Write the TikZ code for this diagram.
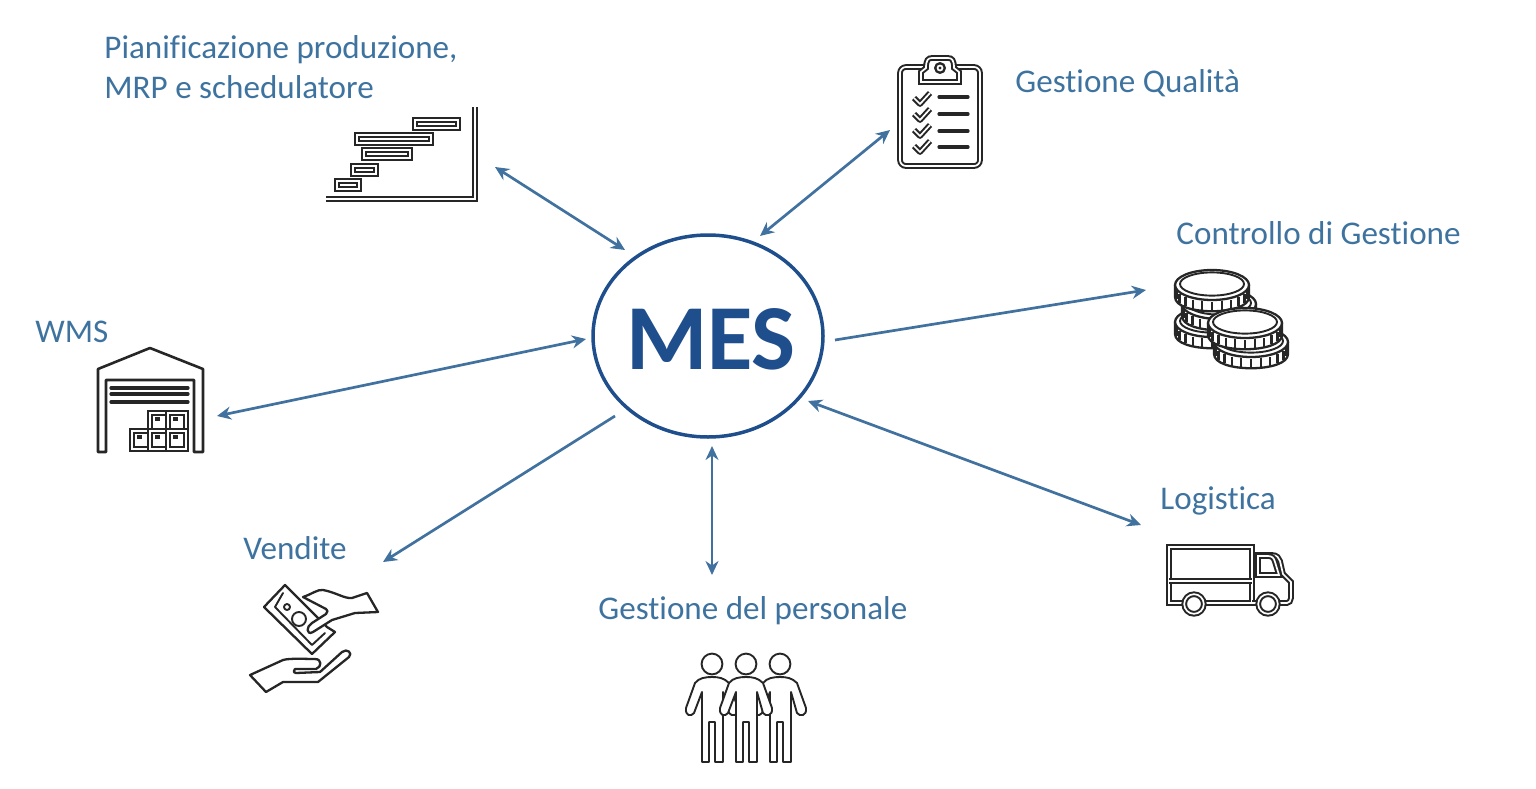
\documentclass[tikz,border=0pt]{standalone}
\usepackage{fontspec}
\setmainfont{Carlito}[Ligatures=CommonOff]
\usetikzlibrary{arrows.meta,shapes.geometric}
\definecolor{lab}{HTML}{3E739F}
\definecolor{arr}{HTML}{41729F}
\definecolor{mes}{HTML}{1F4E8C}
\tikzset{
  lbl/.style={text=lab,font=\fontsize{16.55}{20}\selectfont,inner sep=0pt,anchor=base west,align=left},
  link/.style={draw=arr,line width=1.35pt},
  two/.style={{Stealth[length=7pt,width=6.5pt]}-{Stealth[length=7pt,width=6.5pt]}},
  one/.style={-{Stealth[length=7pt,width=6.5pt]}},
  ink/.style={draw=black!85,line width=1.15pt,line join=round,line cap=round},
  dbl/.style={draw=black!85,double=white,double distance=.85pt,line width=1pt,line join=miter},
  thin ink/.style={draw=black!85,line width=.95pt,line join=round,line cap=round}
}
\newcommand{\mycoin}[2]{%
  \path[ink,fill=white] ({#1-37},#2) -- ({#1-37},{#2+12}) .. controls ({#1-37},{#2+31}) and ({#1+37},{#2+31}) .. ({#1+37},{#2+12}) -- ({#1+37},#2) -- cycle;
  \path[ink,fill=white] (#1,#2) ellipse [x radius=18.5pt,y radius=7.5pt];
  \path[thin ink] (#1,{#2-1}) ellipse [x radius=16pt,y radius=5.8pt];
  \foreach \a in {10,26,...,170} {
    \path[draw=black!85,line width=1.3pt] ({#1+36*cos(\a)},{#2+3+14*sin(\a)}) -- ({#1+36*cos(\a)},{#2+12+14*sin(\a)});
  }
}
\newcommand{\myperson}[1]{%
  \path[thin ink] (#1,664) circle [radius=5.2pt];
  \path[thin ink,fill=white] ({#1-10},762) -- ({#1-10},692)
    -- ({#1-18},713) .. controls ({#1-21},717) and ({#1-27},716) .. ({#1-26},708)
    -- ({#1-17},683) .. controls ({#1-13},678) and ({#1-7},677) .. (#1,677)
    .. controls ({#1+7},677) and ({#1+12},678) .. ({#1+17},683)
    -- ({#1+26},708) .. controls ({#1+27},716) and ({#1+20},717) .. ({#1+17},713)
    -- ({#1+11},692) -- ({#1+11},762) -- ({#1+3},762) -- ({#1+3},722) -- ({#1-3},722) -- ({#1-3},762) -- cycle;
}
\begin{document}
\begin{tikzpicture}[x=.5pt,y=-.5pt]
\useasboundingbox (0,0) rectangle (1536,788);
% centre
\node[ellipse,draw=mes,line width=1.75pt,minimum width=115pt,minimum height=101pt,inner sep=0pt] (MES) at (708,336) {};
\node[text=mes,draw=none,font=\fontsize{46.5}{48}\selectfont\bfseries,inner sep=0pt] (mestext) at (711,339) {MES};
% labels
\node[lbl] (plan) at (104,98) {Pianificazione produzione,\\MRP e schedulatore};
\node[lbl] (qual) at (1015,92) {Gestione Qualità};
\node[lbl] (ctrl) at (1176,244) {Controllo di Gestione};
\node[lbl] (wms)  at (35,342) {WMS};
\node[lbl] (logi) at (1160,509) {Logistica};
\node[lbl] (vend) at (243,559) {Vendite};
\node[lbl] (pers) at (598,619) {Gestione del personale};
% connector ends
\coordinate (a1) at (495,167); \coordinate (b1) at (625,250);
\coordinate (a2) at (890,130); \coordinate (b2) at (760,236);
\coordinate (a3) at (1146,290); \coordinate (b3) at (835,340);
\coordinate (a4) at (1141,525); \coordinate (b4) at (808,401);
\coordinate (a5) at (712,575); \coordinate (b5) at (712,446);
\coordinate (a6) at (383,562); \coordinate (b6) at (615,416);
\coordinate (a7) at (217,416); \coordinate (b7) at (586,339);
\draw[link,two] (a1) -- (b1);
\draw[link,two] (a2) -- (b2);
\draw[link,one] (b3) -- (a3);
\draw[link,two] (a4) -- (b4);
\draw[link,two] (a5) -- (b5);
\draw[link,one] (b6) -- (a6);
\draw[link,two] (a7) -- (b7);
% Gantt icon
\path[dbl] (326,199) -- (475,199) -- (475,107);
\path[dbl] (415,120) rectangle (458,128);
\path[dbl] (357,135) rectangle (431,143);
\path[dbl] (364,150) rectangle (410,158);
\path[dbl] (353,166) rectangle (376,174);
\path[dbl] (337,181) rectangle (359,189);
% clipboard icon
\path[dbl,rounded corners=3pt,fill=white] (900,67) rectangle (980,166);
\path[dbl,fill=white] (921,82) -- (921,72) -- (926,68) .. controls (926,60) and (928,58) .. (932,58) -- (948,58) .. controls (952,58) and (954,60) .. (954,68) -- (959,72) -- (959,82) -- cycle;
\path[ink] (940,68) circle [radius=2.4pt];
\path[fill=black!85] (940,68) circle [radius=.8pt];
\foreach \y in {100,116,132,148} {
  \path[dbl,line join=round] (914,\y-2) -- (920,\y+4) -- (930,\y-7);
}
\foreach \y in {97,114,131,147} {
  \path[draw=black!85,line width=1.6pt,line cap=round] (939,\y) -- (968,\y);
}
% coins icon
\mycoin{1212}{322}
\mycoin{1219}{304}
\mycoin{1212}{285}
\mycoin{1251}{342}
\mycoin{1245}{323}
% warehouse icon
\path[ink,line width=1.3pt] (98,452) -- (98,369) -- (150,348) -- (203,369) -- (203,452) -- (194,452) -- (194,380) -- (106,380) -- (106,452) -- cycle;
\foreach \y in {388,394,402} { \path[draw=black!85,line width=1.6pt,line cap=round] (111,\y) -- (188,\y); }
\foreach \x/\y in {150/413,168/413,132/431,150/431,168/431} {
  \path[dbl] (\x,\y) rectangle ++(18,18);
  \path[fill=black!85] (\x+5,\y+4) rectangle ++(5,4);
}
% money icon
\path[ink,fill=white] (285,585) -- (264,607) -- (312,654) -- (335,632) -- (327,627) -- (300,600) -- cycle;
\path[thin ink] (283,593) -- (275,607) -- (312,645) -- (325,633);
\path[thin ink] (287,607) circle [radius=1.5pt];
\path[thin ink] (299,619) circle [radius=3.5pt];
\path[ink,fill=white] (303,597) .. controls (312,594) and (318,589) .. (323,590) .. controls (335,592) and (345,599) .. (352,598) -- (367,593) -- (378,612) -- (355,613) -- (332,620) -- (313,632) .. controls (306,636) and (306,626) .. (312,623) -- (326,614) .. controls (328,612) and (328,610) .. (326,609) -- cycle;
\path[ink,fill=white] (250,675) -- (283,660) .. controls (290,658) and (305,659) .. (315,659) .. controls (322,659) and (322,667) .. (316,669) -- (295,669) .. controls (293,672) and (294,673) .. (296,673) -- (320,672) -- (342,652) .. controls (347,648) and (353,653) .. (349,657) -- (318,682) -- (283,682) -- (266,692) -- cycle;
% people icon
\myperson{712}
\myperson{780}
\myperson{746}
% truck icon
\path[dbl] (1254,555) -- (1272,555) .. controls (1277,555) and (1279,558) .. (1280,561) -- (1283,574) -- (1291,582) -- (1291,598) .. controls (1291,601) and (1289,603) .. (1287,603) -- (1279,603);
\path[dbl] (1258,556) -- (1258,575) -- (1279,575) -- (1275,562) .. controls (1274,558) and (1272,556) .. (1268,556) -- cycle;
\path[dbl] (1194,603) -- (1169,603) -- (1169,547) -- (1252,547) -- (1252,603) -- (1194,603);
\path[dbl] (1169,581) -- (1252,581);
\path[dbl] (1252,603) -- (1258,603);
\path[dbl,fill=white] (1194,604) circle [radius=4.9pt];
\path[dbl,fill=white] (1268,604) circle [radius=4.9pt];
\end{tikzpicture}
\end{document}
